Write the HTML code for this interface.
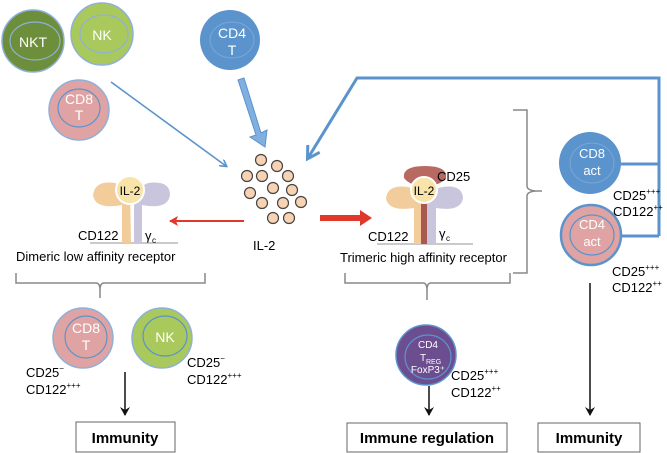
<!DOCTYPE html>
<html><head><meta charset="utf-8"><style>
body{margin:0;background:#fff;}
svg{display:block;font-family:"Liberation Sans",sans-serif;}
</style></head><body>
<svg width="667" height="453" viewBox="0 0 667 453" xmlns="http://www.w3.org/2000/svg">
<defs>
<marker id="ab" markerWidth="8" markerHeight="8" refX="6" refY="4" orient="auto" markerUnits="userSpaceOnUse"><path d="M0,0 L7,4 L0,8" fill="none" stroke="#5b93cc" stroke-width="1.6"/></marker>
<marker id="ab2" markerWidth="16" markerHeight="16" refX="12" refY="8" orient="auto" markerUnits="userSpaceOnUse"><path d="M1,1 L13,8 L1,15" fill="none" stroke="#5b93cc" stroke-width="3"/></marker>
<marker id="ak" markerWidth="10" markerHeight="10" refX="8" refY="5" orient="auto" markerUnits="userSpaceOnUse"><path d="M0,0 L9,5 L0,10 L3,5z" fill="#111"/></marker>
<marker id="ar" markerWidth="10" markerHeight="10" refX="8" refY="5" orient="auto" markerUnits="userSpaceOnUse"><path d="M0,0 L9,5 L0,10 L2,5z" fill="#e0392b"/></marker>
</defs>
<!-- top cells -->
<circle cx="33" cy="41" r="31" fill="#6d8f3c" stroke="#8fb0d8" stroke-width="1.5"/>
<ellipse cx="35" cy="41" rx="25" ry="19" fill="none" stroke="#8fb0d8" stroke-width="1.2"/>
<text x="33" y="47" font-size="14" fill="#fff" text-anchor="middle">NKT</text>
<circle cx="102" cy="34" r="31" fill="#a9c95c" stroke="#8fb0d8" stroke-width="1.5"/>
<ellipse cx="104" cy="34" rx="24" ry="19" fill="none" stroke="#8fb0d8" stroke-width="1.2"/>
<text x="102" y="40" font-size="14" fill="#fff" text-anchor="middle">NK</text>
<circle cx="79" cy="110" r="30" fill="#e0a3a3" stroke="#8fb0d8" stroke-width="1.5"/>
<ellipse cx="79" cy="108" rx="21" ry="19" fill="none" stroke="#5b93cc" stroke-width="1.2"/>
<text x="79" y="104" font-size="14" fill="#fff" text-anchor="middle">CD8</text>
<text x="79" y="120" font-size="14" fill="#fff" text-anchor="middle">T</text>
<circle cx="230" cy="40" r="30" fill="#5b93cc"/>
<ellipse cx="232" cy="40" rx="22" ry="18" fill="none" stroke="#7aa8d8" stroke-width="1"/>
<text x="232" y="38" font-size="14" fill="#fff" text-anchor="middle">CD4</text>
<text x="232" y="55" font-size="14" fill="#fff" text-anchor="middle">T</text>
<!-- arrows into IL-2 -->
<line x1="111" y1="82" x2="226" y2="166" stroke="#5b93cc" stroke-width="1.6" marker-end="url(#ab)"/>
<path d="M238,80 L256,135 L250,137 L265,147 L267,130 L261,133 L244,78z" fill="#7fb0e0" stroke="#5b93cc" stroke-width="1"/>
<polyline points="659,236 659,78 357,78 308,158" fill="none" stroke="#5b93cc" stroke-width="3" marker-end="url(#ab2)"/>
<line x1="620" y1="164" x2="659" y2="164" stroke="#5b93cc" stroke-width="3"/>
<line x1="620" y1="236" x2="659" y2="236" stroke="#5b93cc" stroke-width="3"/>
<!-- IL-2 dots -->
<g fill="#f7d3b3" stroke="#444" stroke-width="1.2">
<circle cx="261" cy="160" r="5.5"/><circle cx="277" cy="166" r="5.5"/><circle cx="247" cy="176" r="5.5"/><circle cx="262" cy="176" r="5.5"/><circle cx="288" cy="176" r="5.5"/><circle cx="273" cy="188" r="5.5"/><circle cx="250" cy="193" r="5.5"/><circle cx="292" cy="190" r="5.5"/><circle cx="262" cy="203" r="5.5"/><circle cx="283" cy="203" r="5.5"/><circle cx="301" cy="202" r="5.5"/><circle cx="273" cy="218" r="5.5"/><circle cx="289" cy="218" r="5.5"/>
</g>
<text x="253" y="250" font-size="13">IL-2</text>
<line x1="244" y1="221" x2="170" y2="221" stroke="#e0392b" stroke-width="2" marker-end="url(#ar)"/>
<path d="M320,215 L360,215 L360,210 L372,218 L360,226 L360,221 L320,221z" fill="#e0392b"/>
<!-- left receptor -->
<line x1="90" y1="243" x2="178" y2="243" stroke="#aaa" stroke-width="1.2"/>
<path d="M122,243 L122,205 Q95,210 93,195 Q95,180 115,183 L130,190 L131,243z" fill="#f3cc9c"/>
<path d="M134,243 L134,190 L148,183 Q170,180 170,195 Q168,210 142,205 L142,243z" fill="#c9c5dc"/>
<circle cx="130" cy="190" r="14" fill="#f8e3a8" stroke="#fff" stroke-width="2"/>
<text x="130" y="195" font-size="12" text-anchor="middle">IL-2</text>
<text x="78" y="240" font-size="13">CD122</text>
<text x="145" y="240" font-size="13">γ</text><text x="152" y="243" font-size="8">c</text>
<text x="16" y="261" font-size="13">Dimeric low affinity receptor</text>
<path d="M16,273 L16,283 L96,283 Q100,283 100,290 L100,298 M100,290 Q100,283 104,283 L205,283 L205,273" fill="none" stroke="#888" stroke-width="1.5"/>
<!-- bottom left cells -->
<circle cx="83" cy="338" r="30" fill="#e0a3a3" stroke="#8fb0d8" stroke-width="1.5"/>
<ellipse cx="86" cy="337" rx="21" ry="21" fill="none" stroke="#5b93cc" stroke-width="1.2"/>
<text x="86" y="333" font-size="14" fill="#fff" text-anchor="middle">CD8</text>
<text x="86" y="350" font-size="14" fill="#fff" text-anchor="middle">T</text>
<circle cx="162" cy="338" r="30" fill="#a9c95c" stroke="#8fb0d8" stroke-width="1.5"/>
<ellipse cx="165" cy="336" rx="22" ry="20" fill="none" stroke="#5b93cc" stroke-width="1.2"/>
<text x="165" y="342" font-size="14" fill="#fff" text-anchor="middle">NK</text>
<text x="26" y="377" font-size="13">CD25<tspan font-size="8" dy="-6">−</tspan></text>
<text x="26" y="394" font-size="13">CD122<tspan font-size="8" dy="-6">+++</tspan></text>
<text x="187" y="367" font-size="13">CD25<tspan font-size="8" dy="-6">−</tspan></text>
<text x="187" y="384" font-size="13">CD122<tspan font-size="8" dy="-6">+++</tspan></text>
<line x1="125" y1="372" x2="125" y2="415" stroke="#111" stroke-width="1.5" marker-end="url(#ak)"/>
<rect x="76" y="422" width="99" height="30" fill="#fff" stroke="#666" stroke-width="1"/>
<text x="125" y="443" font-size="15" font-weight="bold" text-anchor="middle">Immunity</text>
<!-- trimeric receptor -->
<line x1="377" y1="244" x2="473" y2="244" stroke="#aaa" stroke-width="1.2"/>
<path d="M404,178 Q402,166 425,166 Q448,166 446,178 Q440,186 425,186 Q410,186 404,178z" fill="#b86a62"/>
<path d="M414,244 L414,208 Q388,212 386,198 Q388,184 408,187 L424,192 L423,244z" fill="#f3cc9c"/>
<path d="M427,244 L427,192 L442,187 Q462,184 463,198 Q461,212 436,208 L436,244z" fill="#c9c5dc"/>
<rect x="421" y="190" width="6" height="54" fill="#a85a50"/>
<circle cx="424" cy="190" r="13" fill="#f8e3a8" stroke="#fff" stroke-width="2"/>
<text x="424" y="195" font-size="12" text-anchor="middle">IL-2</text>
<text x="437" y="181" font-size="13">CD25</text>
<text x="368" y="241" font-size="13">CD122</text>
<text x="439" y="238" font-size="13">γ</text><text x="446" y="241" font-size="8">c</text>
<text x="340" y="262" font-size="13">Trimeric high affinity receptor</text>
<path d="M345,273 L345,283 L423,283 Q427,283 427,290 L427,300 M427,290 Q427,283 431,283 L510,283 L510,273" fill="none" stroke="#888" stroke-width="1.5"/>
<path d="M513,110 L527,110 L527,186 Q527,190 535,191 Q527,192 527,196 L527,273 L513,273" fill="none" stroke="#888" stroke-width="1.5"/>
<line x1="533" y1="191" x2="542" y2="191" stroke="#888" stroke-width="1.5"/>
<!-- Treg -->
<circle cx="426" cy="355" r="30" fill="#6c4d90" stroke="#5b93cc" stroke-width="1.5"/>
<ellipse cx="428" cy="357" rx="23" ry="22" fill="none" stroke="#5b93cc" stroke-width="1.2"/>
<text x="428" y="348" font-size="10" fill="#fff" text-anchor="middle">CD4</text>
<text x="420" y="361" font-size="10" fill="#fff">T</text><text x="426" y="364" font-size="7" fill="#fff">REG</text>
<text x="428" y="373" font-size="10" fill="#fff" text-anchor="middle">FoxP3⁺</text>
<text x="451" y="380" font-size="13">CD25<tspan font-size="8" dy="-6">+++</tspan></text>
<text x="451" y="397" font-size="13">CD122<tspan font-size="8" dy="-6">++</tspan></text>
<line x1="429" y1="386" x2="429" y2="415" stroke="#111" stroke-width="1.5" marker-end="url(#ak)"/>
<rect x="347" y="423" width="160" height="29" fill="#fff" stroke="#666" stroke-width="1"/>
<text x="427" y="443" font-size="15" font-weight="bold" text-anchor="middle">Immune regulation</text>
<!-- right cells -->
<circle cx="590" cy="163" r="31" fill="#5b93cc"/>
<ellipse cx="592" cy="163" rx="22" ry="20" fill="none" stroke="#7aa8d8" stroke-width="1"/>
<text x="592" y="158" font-size="13" fill="#fff" text-anchor="middle">CD8</text>
<text x="592" y="175" font-size="13" fill="#fff" text-anchor="middle">act</text>
<circle cx="591" cy="235" r="30" fill="#e0a3a3" stroke="#5b93cc" stroke-width="2.5"/>
<ellipse cx="592" cy="235" rx="22" ry="20" fill="none" stroke="#5b93cc" stroke-width="1.2"/>
<text x="592" y="229" font-size="13" fill="#fff" text-anchor="middle">CD4</text>
<text x="592" y="246" font-size="13" fill="#fff" text-anchor="middle">act</text>
<text x="613" y="200" font-size="13">CD25<tspan font-size="8" dy="-6">+++</tspan></text>
<text x="613" y="216" font-size="13">CD122<tspan font-size="8" dy="-6">++</tspan></text>
<text x="612" y="276" font-size="13">CD25<tspan font-size="8" dy="-6">+++</tspan></text>
<text x="612" y="292" font-size="13">CD122<tspan font-size="8" dy="-6">++</tspan></text>
<line x1="590" y1="283" x2="590" y2="415" stroke="#111" stroke-width="1.5" marker-end="url(#ak)"/>
<rect x="538" y="423" width="102" height="29" fill="#fff" stroke="#666" stroke-width="1"/>
<text x="589" y="443" font-size="15" font-weight="bold" text-anchor="middle">Immunity</text>
</svg>
</body></html>
